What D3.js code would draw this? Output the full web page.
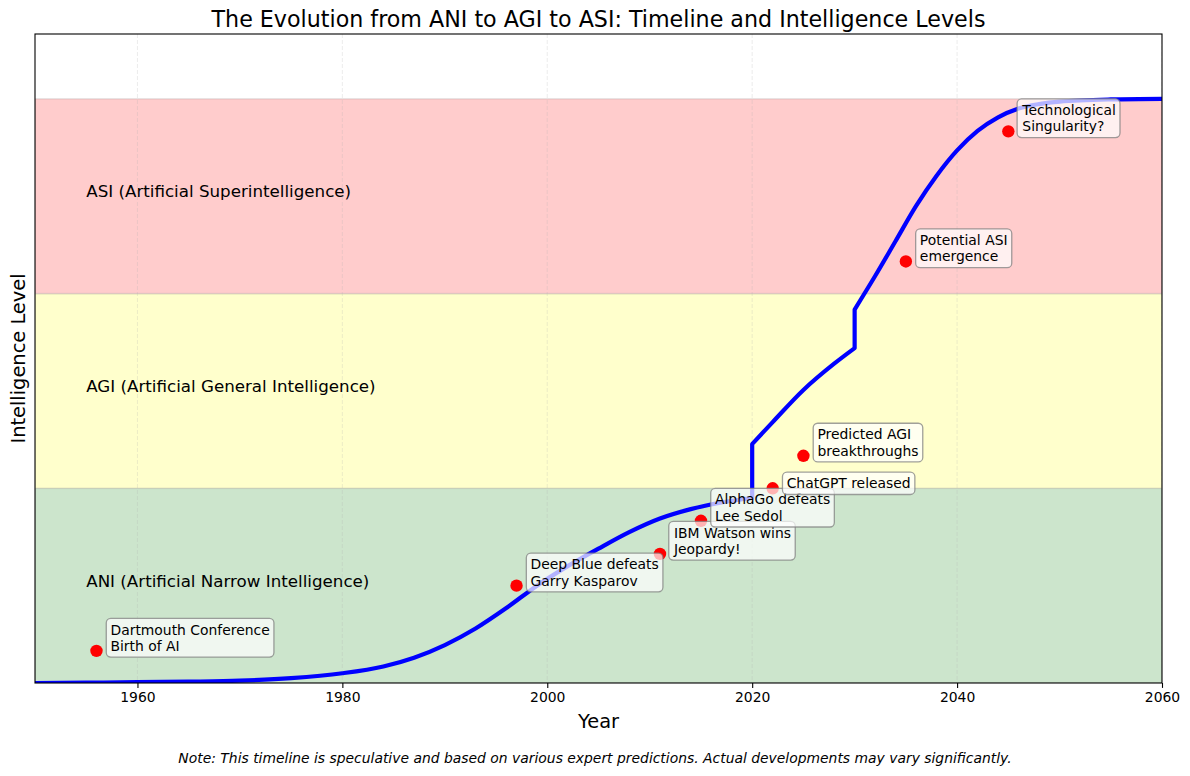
<!DOCTYPE html>
<html>
<head>
<meta charset="utf-8">
<script src="https://cdn.jsdelivr.net/npm/d3@7"></script>
<style>
  body { margin: 0; background: #fff; }
  text { font-family: "DejaVu Sans", sans-serif; }
</style>
</head>
<body>
<div id="chart"></div>
<script>
// curve pieces
const aniYears = [1950, 1955, 1960, 1965, 1970, 1975, 1980, 1984, 1987, 1990, 1993, 1996, 1999, 2002, 2005, 2008, 2011, 2014, 2017, 2020];
const aniLevels = [0, 0.002, 0.004, 0.007, 0.012, 0.025, 0.05, 0.085, 0.13, 0.195, 0.28, 0.385, 0.5, 0.6, 0.69, 0.775, 0.845, 0.893, 0.927, 0.95];
const agiYears = [2020, 2022, 2025, 2028, 2030];
const agiLevels = [1.227, 1.34, 1.505, 1.64, 1.72];
const asiYears = [2030, 2032, 2034, 2036, 2038, 2040, 2042, 2044, 2046, 2048, 2050, 2055, 2060];
const asiLevels = [1.918, 2.09, 2.27, 2.45, 2.605, 2.735, 2.835, 2.905, 2.95, 2.973, 2.986, 2.997, 3.0];

// milestones
const eventYears = [1956, 1997, 2011, 2015, 2022, 2025, 2035, 2045];
const eventLevels = [0.165, 0.5, 0.663, 0.833, 1.0, 1.167, 2.165, 2.833];
const eventLabels = [
  "Dartmouth Conference\nBirth of AI",
  "Deep Blue defeats\nGarry Kasparov",
  "IBM Watson wins\nJeopardy!",
  "AlphaGo defeats\nLee Sedol",
  "ChatGPT released",
  "Predicted AGI\nbreakthroughs",
  "Potential ASI\nemergence",
  "Technological\nSingularity?"
];

// bands
const bandNames = ["ANI (Artificial Narrow Intelligence)", "AGI (Artificial General Intelligence)", "ASI (Artificial Superintelligence)"];
const bandLow = [0, 1, 2];
const bandHigh = [1, 2, 3];
const bandColors = ["#cce5cc", "#ffffcc", "#ffcccc"];

const xTicks = [1960, 1980, 2000, 2020, 2040, 2060];

const width = 1190, height = 776;
const margin = {top: 34, right: 28, bottom: 93, left: 35};

const svg = d3.select("#chart")
  .append("svg")
  .attr("width", width)
  .attr("height", height);

const x = d3.scaleLinear()
  .domain([1950, 2060])
  .range([margin.left, width - margin.right]);

const y = d3.scaleLinear()
  .domain([0, 3.333])
  .range([height - margin.bottom, margin.top]);

svg.append("clipPath").attr("id", "plot")
  .append("rect")
  .attr("x", margin.left).attr("y", margin.top)
  .attr("width", width - margin.left - margin.right)
  .attr("height", height - margin.top - margin.bottom);

const plot = svg.append("g").attr("clip-path", "url(#plot)");

// bands
plot.append("g")
  .selectAll("rect")
  .data(bandNames)
  .join("rect")
  .attr("x", margin.left)
  .attr("width", width - margin.left - margin.right)
  .attr("y", (d, i) => y(bandHigh[i]))
  .attr("height", (d, i) => y(bandLow[i]) - y(bandHigh[i]))
  .attr("fill", (d, i) => bandColors[i])
  .attr("stroke", "rgba(120,120,120,0.18)")
  .attr("stroke-width", 1.5);

// vertical grid
plot.append("g")
  .selectAll("line")
  .data(xTicks)
  .join("line")
  .attr("x1", d => x(d)).attr("x2", d => x(d))
  .attr("y1", margin.top).attr("y2", height - margin.bottom)
  .attr("stroke", "#b0b0b0")
  .attr("stroke-opacity", 0.3)
  .attr("stroke-dasharray", "4,2")
  .attr("stroke-width", 0.8);

// band labels
plot.append("g")
  .selectAll("text")
  .data(bandNames)
  .join("text")
  .attr("x", x(1955))
  .attr("y", (d, i) => y((bandLow[i] + bandHigh[i]) / 2) - 5)
  .attr("dominant-baseline", "central")
  .attr("font-size", 16.7)
  .attr("fill", "#000")
  .text(d => d);

// curve
const line = d3.line()
  .x(d => x(d[0]))
  .y(d => y(d[1]))
  .curve(d3.curveMonotoneX);

const segments = [
  aniYears.map((yr, i) => [yr, aniLevels[i]]),
  agiYears.map((yr, i) => [yr, agiLevels[i]]),
  asiYears.map((yr, i) => [yr, asiLevels[i]])
];
const pathD = segments.map((s, i) => i ? line(s).replace(/^M/, "L") : line(s)).join("");

plot.append("path")
  .attr("d", pathD)
  .attr("fill", "none")
  .attr("stroke", "#0000ff")
  .attr("stroke-width", 4.2)
  .attr("stroke-linejoin", "round");

// milestone dots
plot.append("g")
  .selectAll("circle")
  .data(eventYears)
  .join("circle")
  .attr("cx", d => x(d))
  .attr("cy", (d, i) => y(eventLevels[i]))
  .attr("r", 6.2)
  .attr("fill", "#ff0000");

// annotations
const lh = 16.3;
const notes = svg.append("g");
eventLabels.forEach((label, i) => {
  const lines = label.split("\n");
  const g = notes.append("g");
  const tx = x(eventYears[i]) + 14;
  const ty = y(eventLevels[i]) - (lines.length - 1) * lh;
  const t = g.append("text")
    .attr("x", tx)
    .attr("y", ty)
    .attr("font-size", 13.9)
    .attr("fill", "#000");
  lines.forEach((l, j) => {
    t.append("tspan").attr("x", tx).attr("dy", j ? lh : 0).text(l);
  });
  const bb = t.node().getBBox();
  const pad = 4.2;
  g.insert("rect", "text")
    .attr("x", bb.x - pad)
    .attr("y", bb.y - pad + 1)
    .attr("width", bb.width + 2 * pad)
    .attr("height", bb.height + 2 * pad - 2)
    .attr("rx", 4.5)
    .attr("fill", "#fff")
    .attr("fill-opacity", 0.7)
    .attr("stroke", "#808080")
    .attr("stroke-opacity", 0.75)
    .attr("stroke-width", 1.3);
});

// x axis
svg.append("g")
  .attr("transform", `translate(0,${height - margin.bottom})`)
  .call(d3.axisBottom(x).tickValues(xTicks).tickFormat(d3.format("d")).tickSize(4.9).tickSizeOuter(0).tickPadding(4.5))
  .call(g => g.select(".domain").remove())
  .call(g => g.selectAll("text").attr("font-size", 13.9).attr("font-family", "DejaVu Sans").attr("fill", "#000"))
  .call(g => g.selectAll("line").attr("stroke", "#000").attr("stroke-width", 1.1));

// frame
svg.append("rect")
  .attr("x", margin.left).attr("y", margin.top)
  .attr("width", width - margin.left - margin.right)
  .attr("height", height - margin.top - margin.bottom)
  .attr("fill", "none")
  .attr("stroke", "#000")
  .attr("stroke-width", 1.1);

// titles
svg.append("text")
  .attr("x", (margin.left + width - margin.right) / 2)
  .attr("y", 27)
  .attr("text-anchor", "middle")
  .attr("font-size", 22.2)
  .text("The Evolution from ANI to AGI to ASI: Timeline and Intelligence Levels");

svg.append("text")
  .attr("x", (margin.left + width - margin.right) / 2)
  .attr("y", 728)
  .attr("text-anchor", "middle")
  .attr("font-size", 19.4)
  .text("Year");

svg.append("text")
  .attr("transform", `translate(25,${(margin.top + height - margin.bottom) / 2}) rotate(-90)`)
  .attr("text-anchor", "middle")
  .attr("font-size", 19.4)
  .text("Intelligence Level");

svg.append("text")
  .attr("x", width / 2)
  .attr("y", 763)
  .attr("text-anchor", "middle")
  .attr("font-size", 13.9)
  .attr("font-style", "italic")
  .text("Note: This timeline is speculative and based on various expert predictions. Actual developments may vary significantly.");
</script>
</body>
</html>
